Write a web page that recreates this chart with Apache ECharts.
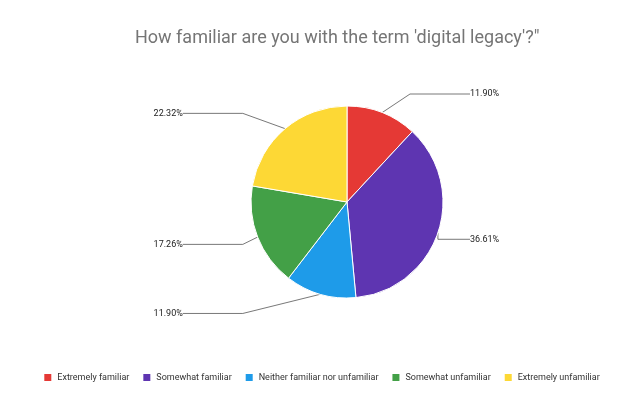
<!DOCTYPE html><html><head><meta charset="utf-8">
<script src="https://cdn.jsdelivr.net/npm/echarts@6/dist/echarts.min.js"></script>
<style>html,body{margin:0;background:#fff}#c{width:642px;height:400px}</style></head><body><div id="c"></div>
<script>
const categories=['Extremely familiar','Somewhat familiar','Neither familiar nor unfamiliar','Somewhat unfamiliar','Extremely unfamiliar'];
const values=[11.90,36.61,11.90,17.26,22.32];
const colors=['#e53935','#5e35b1','#1e9be9','#43a047','#fdd835'];
const chart=echarts.init(document.getElementById('c'));
chart.setOption({
  title:{text:"How familiar are you with the term 'digital legacy'?\"",left:130,top:24,textStyle:{color:'#757575',fontSize:18,fontWeight:'normal',fontFamily:'Roboto'}},
  legend:{bottom:12,left:'center',itemWidth:9,itemHeight:9,icon:'rect',itemGap:12,textStyle:{fontSize:9,color:'#333',fontFamily:'Roboto'}},
  color:colors,
  series:[{type:'pie',center:[347,202],radius:96,startAngle:90,clockwise:true,
    data:categories.map((n,i)=>({name:n,value:values[i]})),
    itemStyle:{borderColor:'#fff',borderWidth:1},
    label:{formatter:p=>p.value.toFixed(2)+'%',fontSize:9,color:'#222',fontFamily:'Roboto'},
    labelLine:{length:20,length2:60,lineStyle:{color:'#555',width:0.8}},
    labelLayout:function(p){
      const w=p.labelRect.width;
      return p.labelRect.x+w/2<347?{x:212-w}:{x:470};
    }
  }]
});
</script></body></html>
